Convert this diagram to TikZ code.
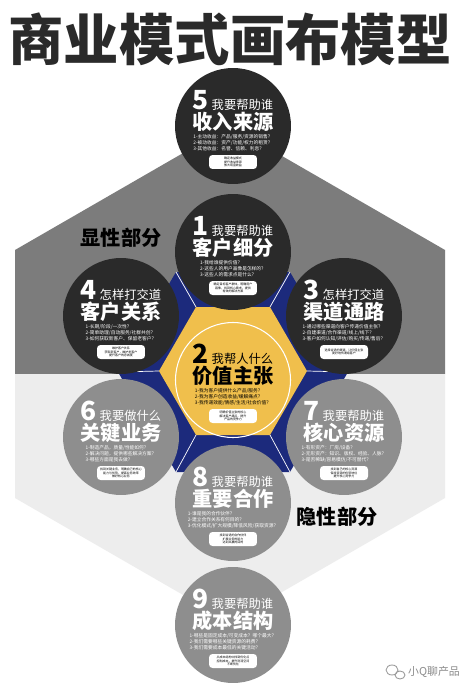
\documentclass[tikz,border=0pt]{standalone}
\usepackage{fontspec}
\setmainfont{Noto Sans CJK SC}
\IfFontExistsTF{Noto Sans CJK SC Black}
  {\newfontfamily\heavyfont{Noto Sans CJK SC Black}}
  {\newfontfamily\heavyfont[FakeBold=1.5]{Noto Sans CJK SC Bold}}
\usetikzlibrary{calc}

\definecolor{hexdark}{HTML}{7C7C7C}
\definecolor{hexlight}{HTML}{EDEDED}
\definecolor{blockdark}{HTML}{2A2A2A}
\definecolor{blockgray}{HTML}{8E8E8E}
\definecolor{valueyellow}{HTML}{F0BF4C}
\definecolor{coreblue}{HTML}{1C2A7C}

% one block of the canvas: name, centre, circle style, text colour, number, question, title, lines, box
\newcommand{\canvasblock}[9]{%
  \node[#3] (#1) at (#2) {};
  \node[blocknum, text=#4] (#1-num) at ($(#1)+(0,-26)$) {{\fontsize{15}{15}\selectfont\heavyfont #5}\,{\fontsize{7}{7}\selectfont #6}};
  \node[blocktitle, text=#4] (#1-title) at ($(#1)+(0,-4)$) {#7};
  \node[blocklines, text=#4] (#1-lines) at ($(#1)+(0,17)$) {#8};
  \node[blockbox] (#1-box) at ($(#1)+(0,36)$) {#9};
}

\begin{document}
\begin{tikzpicture}[x=0.02cm, y=-0.02cm,
    darkblock/.style={circle, fill=blockdark, inner sep=0pt, minimum size=2.32cm},
    grayblock/.style={circle, fill=blockgray, inner sep=0pt, minimum size=2.32cm},
    valuering/.style={circle, draw=white, line width=0.6pt, inner sep=0pt, minimum size=2.3cm},
    blocknum/.style={inner sep=0pt, align=center},
    blocktitle/.style={inner sep=0pt, align=center, font=\fontsize{11.5}{11.5}\selectfont\heavyfont},
    blocklines/.style={inner sep=0pt, align=left, font=\fontsize{2.7}{3.4}\selectfont},
    blockbox/.style={fill=white, rounded corners=2pt, inner sep=0pt, minimum width=0.96cm, minimum height=0.28cm, align=center, text=black, font=\fontsize{1.7}{2.1}\selectfont},
    partlabel/.style={inner sep=0pt, font=\fontsize{11.5}{12}\selectfont\heavyfont, text=black}]

	\useasboundingbox (0,0) rectangle (474,689);
	\fill[white] (0,0) rectangle (474,689);

	% title
	\node[inner sep=0pt, text=blockdark, font=\fontsize{31.5}{32}\selectfont\heavyfont] (title) at (230,39) {商业模式画布模型};

	% outer hexagon, visible part on top, hidden part below
	\fill[hexdark] (15,374) -- (15,250) -- (230,126) -- (445,250) -- (445,374) -- cycle;
	\fill[hexlight] (15,374) -- (15,498) -- (230,622) -- (445,498) -- (445,374) -- cycle;

	% blue core and yellow value hexagon
	\fill[coreblue] (348,372) -- (290,272) -- (176,272) -- (118,372) -- (176,472) -- (290,472) -- cycle;
	\fill[valueyellow] (307,371) -- (270,307) -- (196,307) -- (159,371) -- (196,435) -- (270,435) -- cycle;
	\draw[white, line width=0.4pt] (270,307) -- (290,272) (196,307) -- (176,272) (159,371) -- (118,372)
		(196,435) -- (176,472) (270,435) -- (290,472) (307,371) -- (348,372);

	\node[partlabel] (shown) at (121,238) {显性部分};
	\node[partlabel] (hidden) at (337,517) {隐性部分};

	\canvasblock{income}{233,126}{darkblock}{white}{5}{我要帮助谁}{收入来源}
		{1-主动收益：产品/服务/资源的销售？\\2-被动收益：资产/功能/权力的租赁？\\3-其他收益：名誉、信赖、利息？}
		{确定收益模式\\提升收益来源\\放大现金收益}
	\canvasblock{segment}{233,252}{darkblock}{white}{1}{我要帮助谁}{客户细分}
		{1-我给谁提供价值？\\2-这些人的用户画像是怎样的？\\3-这些人的需求点是什么？}
		{确定目标客户群体，明确用户\\画像，找到核心需求，提供\\有效的解决方案}
	\canvasblock{relation}{121,316}{darkblock}{white}{4}{怎样打交道}{客户关系}
		{1-长期/阶段/一次性？\\2-简单助理/自动服务/社群共创？\\3-如何获取新客户、保留老客户？}
		{维护客户关系\\获取新客户，维护老客户\\提升客户的忠诚度}
	\canvasblock{channel}{344,316}{darkblock}{white}{3}{怎样打交道}{渠道通路}
		{1-通过哪些渠道向客户传递价值主张？\\2-自建渠道/合作渠道/线上/线下？\\3-客户如何认知/评估/购买/传递/售后？}
		{选择合适的渠道，让价值主张\\更好地传递给客户}
	\canvasblock{value}{233,380}{valuering}{black}{2}{我帮人什么}{价值主张}
		{1-我为客户提供什么产品/服务？\\2-我为客户创造收益/缓解痛点？\\3-我传递效能/情感/生活/社会价值？}
		{明确价值主张的核心\\解决客户痛点，提升\\产品的竞争力}
	\canvasblock{activity}{121,437}{grayblock}{white}{6}{我要做什么}{关键业务}
		{1-制造产品，质量/性能如何？\\2-解决问题，提供哪些解决方案？\\3-哪些方面是我去做？}
		{找到关键业务，明确自己的核心\\能力与优势，提高业务效率\\做好核心业务}
	\canvasblock{resource}{344,437}{grayblock}{white}{7}{我要帮助谁}{核心资源}
		{1-有形资产：厂房/设备？\\2-无形资产：知识、版权、经验、人脉？\\3-是否稀缺/容易模仿/不可替代？}
		{找到自己的核心资源\\保持资源的优势地位\\提升核心竞争力}
	\canvasblock{partner}{233,503}{grayblock}{white}{8}{我要帮助谁}{重要合作}
		{1-谁是我的合作伙伴？\\2-建立合作关系有何目的？\\3-优化模式/扩大规模/降低风险/获取资源？}
		{找到合适的合作伙伴\\扩展业务的能力\\达到共赢的目的}
	\canvasblock{cost}{233,625}{grayblock}{white}{9}{我要帮助谁}{成本结构}
		{1-哪些是固定成本/可变成本？哪个最大？\\2-我们需要哪些关键资源的耗费？\\3-我们需要成本最低的关键活动？}
		{从成本结构中找到优化点\\控制成本，提升利润空间\\不断优化}

	% watermark
	\draw[black!40, line width=0.5pt] (392,670) ellipse (6 and 5) (400,675) ellipse (5 and 4);
	\node[inner sep=0pt, text=black!45, font=\fontsize{6.2}{6.2}\selectfont] (mark) at (434,672) {小Q聊产品};

\end{tikzpicture}
\end{document}
